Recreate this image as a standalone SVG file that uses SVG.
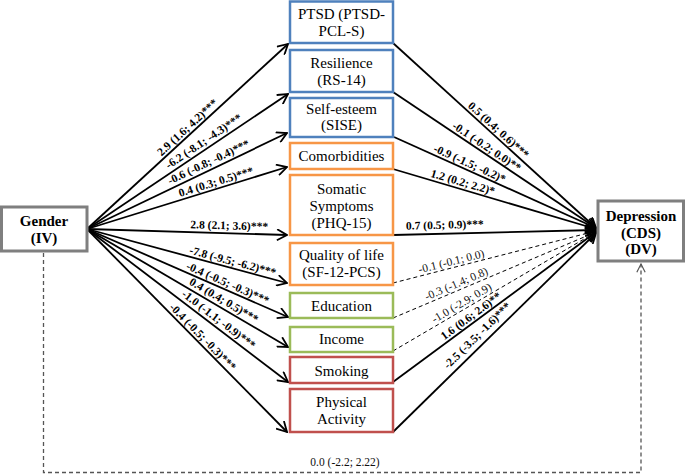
<svg xmlns="http://www.w3.org/2000/svg" width="685" height="474" viewBox="0 0 685 474">
<defs>
<style>
.node{fill:#fff;stroke-width:2.5}
.blue{stroke:#4F81BD}.orange{stroke:#F79646}.green{stroke:#9BBB59}.red{stroke:#C0504D}.gray{stroke:#7F7F7F;stroke-width:3}
.nt{font-family:"Liberation Serif","Times New Roman",serif;font-size:15px;fill:#000;text-anchor:middle}
.bt{font-family:"Liberation Serif","Times New Roman",serif;font-size:15px;font-weight:bold;fill:#000;text-anchor:middle}
.lb{font-family:"Liberation Serif","Times New Roman",serif;font-size:11.5px;font-weight:bold;fill:#000;text-anchor:middle}
.ln{font-family:"Liberation Serif","Times New Roman",serif;font-size:11.5px;fill:#111;text-anchor:middle}
.sol{fill:none;stroke:#000;stroke-width:1.8;marker-end:url(#ah)}
.dsh{fill:none;stroke:#000;stroke-width:1;stroke-dasharray:4 3;marker-end:url(#ah)}
.gd{fill:none;stroke:#555;stroke-width:1.3;stroke-dasharray:4 3;marker-end:url(#ahg)}
</style>
<marker id="ah" viewBox="0 0 12 12" refX="11" refY="6" markerWidth="12" markerHeight="12" markerUnits="userSpaceOnUse" orient="auto"><path d="M1,0.5 L11,6 L1,11.5" fill="none" stroke="#000" stroke-width="1.8" stroke-dasharray="none"/></marker>
<marker id="ahg" viewBox="0 0 12 12" refX="11" refY="6" markerWidth="10" markerHeight="10" markerUnits="userSpaceOnUse" orient="auto"><path d="M1,1 L11,6 L1,11" fill="none" stroke="#555" stroke-width="1.4" stroke-dasharray="none"/></marker>
</defs>
<rect width="685" height="474" fill="#fff"/>

<g id="connectors">
<path class="sol" d="M87,229 L288,44"/>
<path class="sol" d="M87,229 L288,94"/>
<path class="sol" d="M87,229 L287,133"/>
<path class="sol" d="M87,229 L287,167"/>
<path class="sol" d="M87,229 L287,235"/>
<path class="sol" d="M87,229 L287,283"/>
<path class="sol" d="M87,229 L288,317"/>
<path class="sol" d="M87,229 L288,347"/>
<path class="sol" d="M87,229 L288,382"/>
<path class="sol" d="M87,229 L287,432"/>

<path class="sol" d="M393,43 L596,228"/>
<path class="sol" d="M393,92 L596,228"/>
<path class="sol" d="M394,137 L596,228"/>
<path class="sol" d="M393,169 L596,229"/>
<path class="sol" d="M393,235 L596,230"/>
<path class="dsh" d="M393,283 L596,231"/>
<path class="dsh" d="M393,318 L596,232"/>
<path class="dsh" d="M393,351 L596,232"/>
<path class="sol" d="M393,382 L596,232"/>
<path class="sol" d="M393,432 L596,233"/>

<path class="gd" d="M43.5,253 V472.5 H641 V264"/>

<text class="lb" transform="translate(192,132.4) rotate(-42.6)" y="-3">2.9 (1.6; 4.2)***</text>
<text class="lb" transform="translate(208,147.7) rotate(-33.9)" y="-4">-6.2 (-8.1; -4.3)***</text>
<text class="lb" transform="translate(212,169) rotate(-25.6)" y="-4">-0.6 (-0.8; -0.4)***</text>
<text class="lb" transform="translate(218,188.4) rotate(-17.2)" y="-3">0.4 (0.3; 0.5)***</text>
<text class="lb" transform="translate(229,233.3) rotate(1.7)" y="-4">2.8 (2.1; 3.6)***</text>
<text class="lb" transform="translate(231,267.9) rotate(15.1)" y="-3">-7.8 (-9.5; -6.2)***</text>
<text class="lb" transform="translate(225,289.4) rotate(23.6)" y="-3">-0.4 (-0.5; -0.3)***</text>
<text class="lb" transform="translate(220,307.1) rotate(30.4)" y="-4">0.4 (0.4; 0.5)***</text>
<text class="lb" transform="translate(214,325.7) rotate(37.3)" y="-4">-1.0 (-1.1; -0.9)***</text>
<text class="lb" transform="translate(198,341.7) rotate(45.4)" y="-3">-0.4 (-0.5; -0.3)***</text>

<text class="lb" transform="translate(494,135) rotate(42.3)" y="-3">0.5 (0.4; 0.6)***</text>
<text class="lb" transform="translate(483,152.3) rotate(33.8)" y="-3">-0.1 (-0.2; 0.0)**</text>
<text class="lb" transform="translate(467,169.9) rotate(24.3)" y="-3">-0.9 (-1.5; -0.2)*</text>
<text class="lb" transform="translate(461,188.8) rotate(16.2)" y="-3">1.2 (0.2; 2.2)*</text>
<text class="lb" transform="translate(445,233.7) rotate(-1.4)" y="-5">0.7 (0.5; 0.9)***</text>
<text class="ln" transform="translate(453,268) rotate(-14.1)" y="-3">-0.1 (-0.1; 0.0)</text>
<text class="ln" transform="translate(459,290) rotate(-23)" y="-3">-0.3 (-1.4; 0.8)</text>
<text class="ln" transform="translate(465,308.8) rotate(-30.4)" y="-3">-1.0 (-2.9; 0.9)</text>
<text class="lb" transform="translate(475,321.4) rotate(-36.5)" y="-3">1.6 (0.6; 2.6)**</text>
<text class="lb" transform="translate(484,342.4) rotate(-44.6)" y="-6">-2.5 (-3.5; -1.6)***</text>

<text class="ln" x="345" y="466">0.0 (-2.2; 2.22)</text>
</g>

<g id="gender"><rect class="node gray" x="1.5" y="207" width="85.5" height="44"/><text class="bt" x="44" y="225.5">Gender</text><text class="bt" x="44" y="242.5">(IV)</text></g>
<g id="depression"><rect class="node gray" x="598" y="201" width="85.5" height="60"/><text class="bt" x="641" y="221">Depression</text><text class="bt" x="641" y="237.5">(CDS)</text><text class="bt" x="641" y="254">(DV)</text></g>

<g id="ptsd"><rect class="node blue" x="290" y="1.5" width="103" height="41.5"/><text class="nt" x="341.5" y="19">PTSD (PTSD-</text><text class="nt" x="341.5" y="36">PCL-S)</text></g>
<g id="resilience"><rect class="node blue" x="290" y="50" width="103" height="42"/><text class="nt" x="341.5" y="67.5">Resilience</text><text class="nt" x="341.5" y="84.5">(RS-14)</text></g>
<g id="selfesteem"><rect class="node blue" x="290" y="98" width="103" height="39"/><text class="nt" x="341.5" y="113.5">Self-esteem</text><text class="nt" x="341.5" y="130">(SISE)</text></g>
<g id="comorbidities"><rect class="node orange" x="290" y="143" width="103" height="26"/><text class="nt" x="341.5" y="161">Comorbidities</text></g>
<g id="somatic"><rect class="node orange" x="290" y="175" width="103" height="60"/><text class="nt" x="341.5" y="193.5">Somatic</text><text class="nt" x="341.5" y="210.5">Symptoms</text><text class="nt" x="341.5" y="227.5">(PHQ-15)</text></g>
<g id="qol"><rect class="node orange" x="290" y="243" width="103" height="42"/><text class="nt" x="341.5" y="260">Quality of life</text><text class="nt" x="341.5" y="277">(SF-12-PCS)</text></g>
<g id="education"><rect class="node green" x="290" y="293" width="103" height="25"/><text class="nt" x="341.5" y="311">Education</text></g>
<g id="income"><rect class="node green" x="290" y="327" width="103" height="25"/><text class="nt" x="341.5" y="344">Income</text></g>
<g id="smoking"><rect class="node red" x="290" y="357" width="103" height="26"/><text class="nt" x="341.5" y="375.5">Smoking</text></g>
<g id="physical"><rect class="node red" x="290" y="389" width="103" height="43"/><text class="nt" x="341.5" y="407">Physical</text><text class="nt" x="341.5" y="424">Activity</text></g>
</svg>
